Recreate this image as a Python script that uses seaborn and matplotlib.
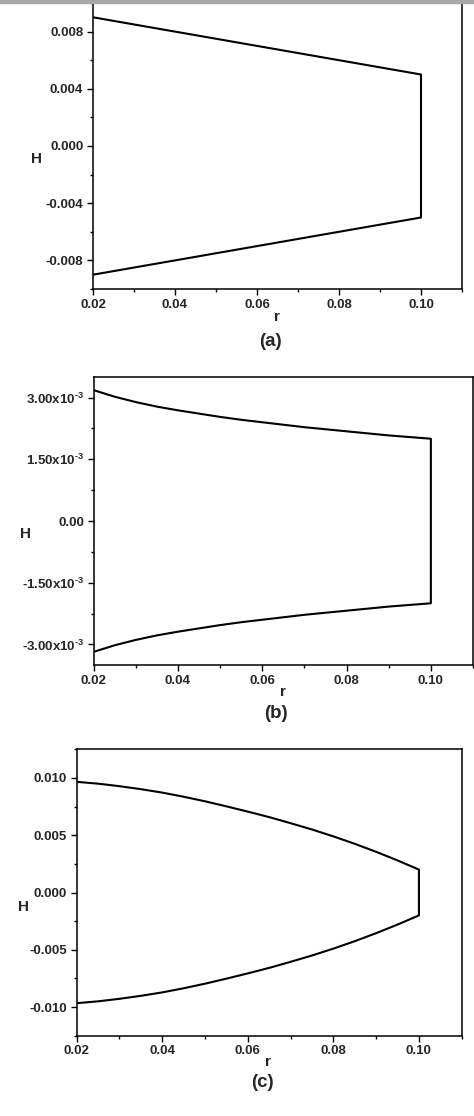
import matplotlib
matplotlib.use("Agg")
import matplotlib.pyplot as plt
import seaborn as sns
from matplotlib.ticker import MultipleLocator, FixedLocator, FixedFormatter

# panel (a): straight taper
r_a = [0.02, 0.10]
h_a_upper = [0.0090, 0.0050]
h_a_lower = [-0.0090, -0.0050]

# panel (b): concave taper
r_b = [0.020, 0.025, 0.030, 0.035, 0.040, 0.045, 0.050, 0.055, 0.060,
       0.065, 0.070, 0.075, 0.080, 0.085, 0.090, 0.095, 0.100]
h_b_upper = [0.00318, 0.00302, 0.00289, 0.00278, 0.00269, 0.00261, 0.00253, 0.00246, 0.00240,
             0.00234, 0.00228, 0.00223, 0.00218, 0.00213, 0.00208, 0.00204, 0.00200]
h_b_lower = [-0.00318, -0.00302, -0.00289, -0.00278, -0.00269, -0.00261, -0.00253, -0.00246, -0.00240,
             -0.00234, -0.00228, -0.00223, -0.00218, -0.00213, -0.00208, -0.00204, -0.00200]

# panel (c): parabolic taper
r_c = [0.020, 0.025, 0.030, 0.035, 0.040, 0.045, 0.050, 0.055, 0.060,
       0.065, 0.070, 0.075, 0.080, 0.085, 0.090, 0.095, 0.100]
h_c_upper = [0.00966, 0.00950, 0.00928, 0.00902, 0.00872, 0.00836, 0.00796, 0.00752, 0.00706,
             0.00658, 0.00605, 0.00550, 0.00490, 0.00425, 0.00355, 0.00280, 0.00200]
h_c_lower = [-0.00966, -0.00950, -0.00928, -0.00902, -0.00872, -0.00836, -0.00796, -0.00752, -0.00706,
             -0.00658, -0.00605, -0.00550, -0.00490, -0.00425, -0.00355, -0.00280, -0.00200]

ticks_a = [-0.008, -0.004, 0.0, 0.004, 0.008]
labels_a = ["-0.008", "-0.004", "0.000", "0.004", "0.008"]
ticks_b = [-0.003, -0.0015, 0.0, 0.0015, 0.003]
labels_b = [r"-3.00x10$^{\text{-3}}$", r"-1.50x10$^{\text{-3}}$", "0.00", r"1.50x10$^{\text{-3}}$", r"3.00x10$^{\text{-3}}$"]
ticks_c = [-0.010, -0.005, 0.0, 0.005, 0.010]
labels_c = ["-0.010", "-0.005", "0.000", "0.005", "0.010"]
x_ticks = [0.02, 0.04, 0.06, 0.08, 0.10]
x_labels = ["0.02", "0.04", "0.06", "0.08", "0.10"]

sns.set_style("ticks")
plt.rcParams["font.family"] = ["Liberation Sans", "DejaVu Sans"]
plt.rcParams["font.weight"] = "bold"
plt.rcParams["axes.unicode_minus"] = False
plt.rcParams["mathtext.fontset"] = "custom"
plt.rcParams["mathtext.rm"] = "Liberation Sans:bold"
plt.rcParams["mathtext.bf"] = "Liberation Sans:bold"
plt.rcParams["mathtext.it"] = "Liberation Sans:bold"
plt.rcParams["mathtext.default"] = "bf"

W, H = 474, 1116
fig = plt.figure(figsize = (W / 100, H / 100), dpi = 100)

# gray strip along the top edge (scan edge in the reference)
fig.patches.append(plt.Rectangle((0, 1 - 3 / H), 1, 3 / H, color = "#a8a8a8", transform = fig.transFigure, zorder = 0))


def box(left, right, top, bottom):
    return [left / W, 1 - bottom / H, (right - left) / W, (bottom - top) / H]


panels = [
    dict(pos = box(93, 462, 3, 289), r = r_a, up = h_a_upper, lo = h_a_lower, ylim = (-0.010, 0.010),
         yt = ticks_a, yl = labels_a, ymin = 0.002, tag = "(a)", hx = -0.154, hy = 0.455, rx = 0.499, ry = -0.098, tx = 0.48, ty = -0.185),
    dict(pos = box(93.7, 473, 377, 665), r = r_b, up = h_b_upper, lo = h_b_lower, ylim = (-0.0035, 0.0035),
         yt = ticks_b, yl = labels_b, ymin = 0.00075, tag = "(b)", hx = -0.181, hy = 0.455, rx = 0.498, ry = -0.093, tx = 0.48, ty = -0.167),
    dict(pos = box(76.7, 461.7, 749.3, 1035.7), r = r_c, up = h_c_upper, lo = h_c_lower, ylim = (-0.0125, 0.0125),
         yt = ticks_c, yl = labels_c, ymin = 0.0025, tag = "(c)", hx = -0.137, hy = 0.45, rx = 0.497, ry = -0.091, tx = 0.483, ty = -0.165),
]

for p in panels:
    ax = fig.add_axes(p["pos"])
    xs = list(p["r"]) + list(p["r"])[::-1]
    ys = list(p["up"]) + list(p["lo"])[::-1]
    sns.lineplot(x = xs, y = ys, sort = False, estimator = None, color = "black", linewidth = 1.5, ax = ax)
    ax.set_xlim(0.02, 0.11)
    ax.set_ylim(*p["ylim"])
    ax.xaxis.set_major_locator(FixedLocator(x_ticks))
    ax.xaxis.set_major_formatter(FixedFormatter(x_labels))
    ax.xaxis.set_minor_locator(MultipleLocator(0.01))
    ax.yaxis.set_major_locator(FixedLocator(p["yt"]))
    ax.yaxis.set_major_formatter(FixedFormatter(p["yl"]))
    ax.yaxis.set_minor_locator(MultipleLocator(p["ymin"]))
    ax.tick_params(which = "major", direction = "out", length = 4, width = 1, labelsize = 9.5, color = "black", pad = 3)
    ax.tick_params(which = "minor", direction = "out", length = 2.5, width = 1, color = "black")
    for lab in ax.get_xticklabels() + ax.get_yticklabels():
        lab.set_fontweight("bold")
    for s in ax.spines.values():
        s.set_linewidth(1.1)
        s.set_color("black")
    ax.set_xlabel("r", fontsize = 11, fontweight = "bold", va = "center")
    ax.xaxis.set_label_coords(p["rx"], p["ry"])
    ax.set_ylabel("H", fontsize = 11, fontweight = "bold", rotation = 0, va = "center", ha = "center")
    ax.yaxis.set_label_coords(p["hx"], p["hy"])
    ax.text(p["tx"], p["ty"], p["tag"], transform = ax.transAxes, fontsize = 13.5, fontweight = "bold",
            ha = "center", va = "center")

fig.savefig("out.png", dpi = 100)
